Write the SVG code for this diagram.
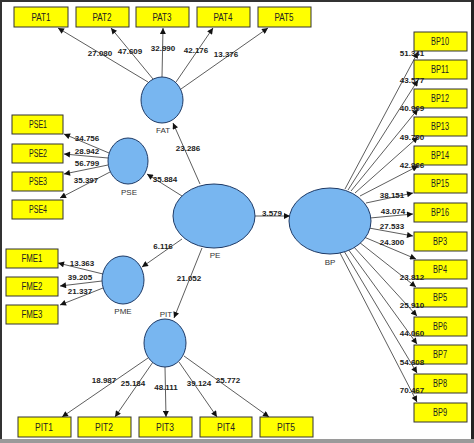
<svg xmlns="http://www.w3.org/2000/svg" width="474" height="443" viewBox="0 0 474 443">
<style>
.box{fill:#ffff00;stroke:#333;stroke-width:1}
.bt{font-family:"Liberation Sans",Arial,sans-serif;font-size:10px;fill:#222;text-anchor:middle}
.lv{fill:#78b6f0;stroke:#1e3a66;stroke-width:1}
.ln{font-family:"Liberation Sans",Arial,sans-serif;font-size:8px;fill:#333;text-anchor:middle}
.c{stroke:#333;stroke-width:0.8;fill:none;marker-end:url(#ah)}
.w{font-family:"Liberation Sans",Arial,sans-serif;font-size:8px;font-weight:bold;fill:#222;text-anchor:middle}
</style>
<defs>
<marker id="ah" viewBox="0 0 10 10" refX="10" refY="5" markerWidth="7" markerHeight="6" markerUnits="userSpaceOnUse" orient="auto"><path d="M0,0 L10,5 L0,10 z" fill="#111"/></marker>
</defs>
<rect x="0" y="0" width="474" height="443" fill="#ffffff"/>
<rect x="0" y="0" width="474" height="2" fill="#333"/>
<rect x="0" y="0" width="2" height="443" fill="#333"/>
<rect x="471" y="0" width="3" height="443" fill="#222"/>
<rect x="0" y="439" width="474" height="4" fill="#9a9a9a"/>

<g id="connectors">
<line class="c" x1="148" y1="82" x2="58" y2="28"/>
<line class="c" x1="153" y1="79" x2="111" y2="28"/>
<line class="c" x1="162" y1="77" x2="163" y2="28"/>
<line class="c" x1="176" y1="82" x2="213" y2="28"/>
<line class="c" x1="181" y1="89" x2="268" y2="28"/>
<line class="c" x1="109" y1="153" x2="64" y2="134"/>
<line class="c" x1="108" y1="158" x2="64" y2="154"/>
<line class="c" x1="108" y1="165" x2="64" y2="174"/>
<line class="c" x1="110" y1="172" x2="60" y2="198"/>
<line class="c" x1="182" y1="196" x2="147" y2="174"/>
<line class="c" x1="200" y1="184" x2="173" y2="123"/>
<line class="c" x1="255" y1="216" x2="290" y2="216"/>
<line class="c" x1="182" y1="239" x2="142" y2="267"/>
<line class="c" x1="202" y1="248" x2="174" y2="318"/>
<line class="c" x1="103" y1="274" x2="58" y2="263"/>
<line class="c" x1="102" y1="281" x2="60" y2="286"/>
<line class="c" x1="103" y1="288" x2="60" y2="305"/>
<line class="c" x1="148" y1="358" x2="62" y2="417"/>
<line class="c" x1="153" y1="362" x2="115" y2="417"/>
<line class="c" x1="165" y1="367" x2="166" y2="417"/>
<line class="c" x1="179" y1="362" x2="217" y2="417"/>
<line class="c" x1="184" y1="356" x2="269" y2="417"/>
<line class="c" x1="345" y1="189" x2="418" y2="52"/>
<line class="c" x1="348" y1="190" x2="418" y2="80"/>
<line class="c" x1="351" y1="191" x2="418" y2="109"/>
<line class="c" x1="355" y1="193" x2="418" y2="137"/>
<line class="c" x1="360" y1="196" x2="418" y2="166"/>
<line class="c" x1="366" y1="203" x2="413" y2="193"/>
<line class="c" x1="370" y1="218" x2="413" y2="214"/>
<line class="c" x1="369" y1="228" x2="413" y2="236"/>
<line class="c" x1="364" y1="237" x2="416" y2="259"/>
<line class="c" x1="359" y1="242" x2="416" y2="287"/>
<line class="c" x1="353" y1="246" x2="417" y2="316"/>
<line class="c" x1="348" y1="249" x2="417" y2="344"/>
<line class="c" x1="344" y1="251" x2="417" y2="373"/>
<line class="c" x1="340" y1="253" x2="417" y2="402"/>
</g>

<g id="FAT"><ellipse class="lv" cx="162" cy="100" rx="21" ry="23"/><text class="ln" x="163" y="133">FAT</text></g>
<g id="PSE"><ellipse class="lv" cx="128" cy="161" rx="20" ry="23"/><text class="ln" x="129" y="195">PSE</text></g>
<g id="PE"><ellipse class="lv" cx="214" cy="216" rx="41" ry="32"/><text class="ln" x="215" y="258">PE</text></g>
<g id="BP"><ellipse class="lv" cx="330" cy="221" rx="41" ry="33"/><text class="ln" x="330" y="265">BP</text></g>
<g id="PME"><ellipse class="lv" cx="123" cy="280" rx="21" ry="24"/><text class="ln" x="123" y="314">PME</text></g>
<g id="PIT"><ellipse class="lv" cx="165" cy="343" rx="21" ry="24"/><text class="ln" x="166" y="317">PIT</text></g>

<g id="PAT1"><rect class="box" x="14" y="7" width="54" height="20"/><text class="bt" x="41" y="20.5" textLength="19" lengthAdjust="spacingAndGlyphs">PAT1</text></g>
<g id="PAT2"><rect class="box" x="76" y="7" width="53" height="20"/><text class="bt" x="102" y="20.5" textLength="19" lengthAdjust="spacingAndGlyphs">PAT2</text></g>
<g id="PAT3"><rect class="box" x="136" y="7" width="53" height="20"/><text class="bt" x="162" y="20.5" textLength="19" lengthAdjust="spacingAndGlyphs">PAT3</text></g>
<g id="PAT4"><rect class="box" x="197" y="7" width="53" height="20"/><text class="bt" x="223" y="20.5" textLength="19" lengthAdjust="spacingAndGlyphs">PAT4</text></g>
<g id="PAT5"><rect class="box" x="258" y="7" width="53" height="20"/><text class="bt" x="284" y="20.5" textLength="19" lengthAdjust="spacingAndGlyphs">PAT5</text></g>

<g id="PSE1"><rect class="box" x="12" y="115" width="51" height="19"/><text class="bt" x="38" y="128" textLength="18" lengthAdjust="spacingAndGlyphs">PSE1</text></g>
<g id="PSE2"><rect class="box" x="12" y="144" width="51" height="19"/><text class="bt" x="38" y="157" textLength="18" lengthAdjust="spacingAndGlyphs">PSE2</text></g>
<g id="PSE3"><rect class="box" x="12" y="172" width="51" height="19"/><text class="bt" x="38" y="185" textLength="18" lengthAdjust="spacingAndGlyphs">PSE3</text></g>
<g id="PSE4"><rect class="box" x="12" y="200" width="51" height="19"/><text class="bt" x="38" y="213" textLength="18" lengthAdjust="spacingAndGlyphs">PSE4</text></g>

<g id="FME1"><rect class="box" x="6" y="249" width="52" height="19"/><text class="bt" x="32" y="262" textLength="21" lengthAdjust="spacingAndGlyphs">FME1</text></g>
<g id="FME2"><rect class="box" x="6" y="277" width="52" height="19"/><text class="bt" x="32" y="290" textLength="21" lengthAdjust="spacingAndGlyphs">FME2</text></g>
<g id="FME3"><rect class="box" x="6" y="305" width="52" height="19"/><text class="bt" x="32" y="318" textLength="21" lengthAdjust="spacingAndGlyphs">FME3</text></g>

<g id="PIT1"><rect class="box" x="18" y="417" width="53" height="20"/><text class="bt" x="44" y="430.5" textLength="18" lengthAdjust="spacingAndGlyphs">PIT1</text></g>
<g id="PIT2"><rect class="box" x="78" y="417" width="53" height="20"/><text class="bt" x="104" y="430.5" textLength="18" lengthAdjust="spacingAndGlyphs">PIT2</text></g>
<g id="PIT3"><rect class="box" x="139" y="417" width="53" height="20"/><text class="bt" x="165" y="430.5" textLength="18" lengthAdjust="spacingAndGlyphs">PIT3</text></g>
<g id="PIT4"><rect class="box" x="200" y="417" width="52" height="20"/><text class="bt" x="226" y="430.5" textLength="18" lengthAdjust="spacingAndGlyphs">PIT4</text></g>
<g id="PIT5"><rect class="box" x="260" y="417" width="53" height="20"/><text class="bt" x="286" y="430.5" textLength="18" lengthAdjust="spacingAndGlyphs">PIT5</text></g>

<g id="BP10"><rect class="box" x="414" y="32" width="53" height="19"/><text class="bt" x="440" y="45" textLength="18" lengthAdjust="spacingAndGlyphs">BP10</text></g>
<g id="BP11"><rect class="box" x="414" y="60" width="53" height="19"/><text class="bt" x="440" y="73" textLength="18" lengthAdjust="spacingAndGlyphs">BP11</text></g>
<g id="BP12"><rect class="box" x="414" y="89" width="53" height="19"/><text class="bt" x="440" y="102" textLength="18" lengthAdjust="spacingAndGlyphs">BP12</text></g>
<g id="BP13"><rect class="box" x="414" y="117" width="53" height="19"/><text class="bt" x="440" y="130" textLength="18" lengthAdjust="spacingAndGlyphs">BP13</text></g>
<g id="BP14"><rect class="box" x="414" y="146" width="53" height="19"/><text class="bt" x="440" y="159" textLength="18" lengthAdjust="spacingAndGlyphs">BP14</text></g>
<g id="BP15"><rect class="box" x="414" y="174" width="53" height="19"/><text class="bt" x="440" y="187" textLength="18" lengthAdjust="spacingAndGlyphs">BP15</text></g>
<g id="BP16"><rect class="box" x="414" y="203" width="53" height="19"/><text class="bt" x="440" y="216" textLength="18" lengthAdjust="spacingAndGlyphs">BP16</text></g>
<g id="BP3"><rect class="box" x="414" y="232" width="53" height="19"/><text class="bt" x="440" y="245" textLength="14" lengthAdjust="spacingAndGlyphs">BP3</text></g>
<g id="BP4"><rect class="box" x="414" y="260" width="53" height="19"/><text class="bt" x="440" y="273" textLength="14" lengthAdjust="spacingAndGlyphs">BP4</text></g>
<g id="BP5"><rect class="box" x="414" y="288" width="53" height="19"/><text class="bt" x="440" y="301" textLength="14" lengthAdjust="spacingAndGlyphs">BP5</text></g>
<g id="BP6"><rect class="box" x="414" y="317" width="53" height="19"/><text class="bt" x="440" y="330" textLength="14" lengthAdjust="spacingAndGlyphs">BP6</text></g>
<g id="BP7"><rect class="box" x="414" y="345" width="53" height="19"/><text class="bt" x="440" y="358" textLength="14" lengthAdjust="spacingAndGlyphs">BP7</text></g>
<g id="BP8"><rect class="box" x="414" y="374" width="53" height="19"/><text class="bt" x="440" y="387" textLength="14" lengthAdjust="spacingAndGlyphs">BP8</text></g>
<g id="BP9"><rect class="box" x="414" y="403" width="53" height="19"/><text class="bt" x="440" y="416" textLength="14" lengthAdjust="spacingAndGlyphs">BP9</text></g>

<g id="weights">
<text class="w" x="100" y="56">27.080</text>
<text class="w" x="130" y="54">47.609</text>
<text class="w" x="163" y="51">32.990</text>
<text class="w" x="196" y="53">42.176</text>
<text class="w" x="226" y="57">13.376</text>
<text class="w" x="87" y="141">34.756</text>
<text class="w" x="87" y="154">28.942</text>
<text class="w" x="87" y="166">56.799</text>
<text class="w" x="86" y="183">35.397</text>
<text class="w" x="165" y="182">35.884</text>
<text class="w" x="188" y="151">23.286</text>
<text class="w" x="272" y="216">3.579</text>
<text class="w" x="163" y="249">6.116</text>
<text class="w" x="189" y="281">21.052</text>
<text class="w" x="82" y="266">13.363</text>
<text class="w" x="80" y="280">39.205</text>
<text class="w" x="80" y="294">21.337</text>
<text class="w" x="104" y="383">18.987</text>
<text class="w" x="133" y="386">25.184</text>
<text class="w" x="166" y="390">48.111</text>
<text class="w" x="199" y="386">39.124</text>
<text class="w" x="228" y="383">25.772</text>
<text class="w" x="412" y="56">51.341</text>
<text class="w" x="412" y="83">43.577</text>
<text class="w" x="412" y="111">40.969</text>
<text class="w" x="412" y="140">49.700</text>
<text class="w" x="412" y="168">42.966</text>
<text class="w" x="392" y="198">38.151</text>
<text class="w" x="393" y="214">43.074</text>
<text class="w" x="392" y="229">27.533</text>
<text class="w" x="392" y="245">24.300</text>
<text class="w" x="412" y="280">23.812</text>
<text class="w" x="412" y="308">25.910</text>
<text class="w" x="412" y="336">44.060</text>
<text class="w" x="412" y="365">54.608</text>
<text class="w" x="412" y="393">70.467</text>
</g>
</svg>
